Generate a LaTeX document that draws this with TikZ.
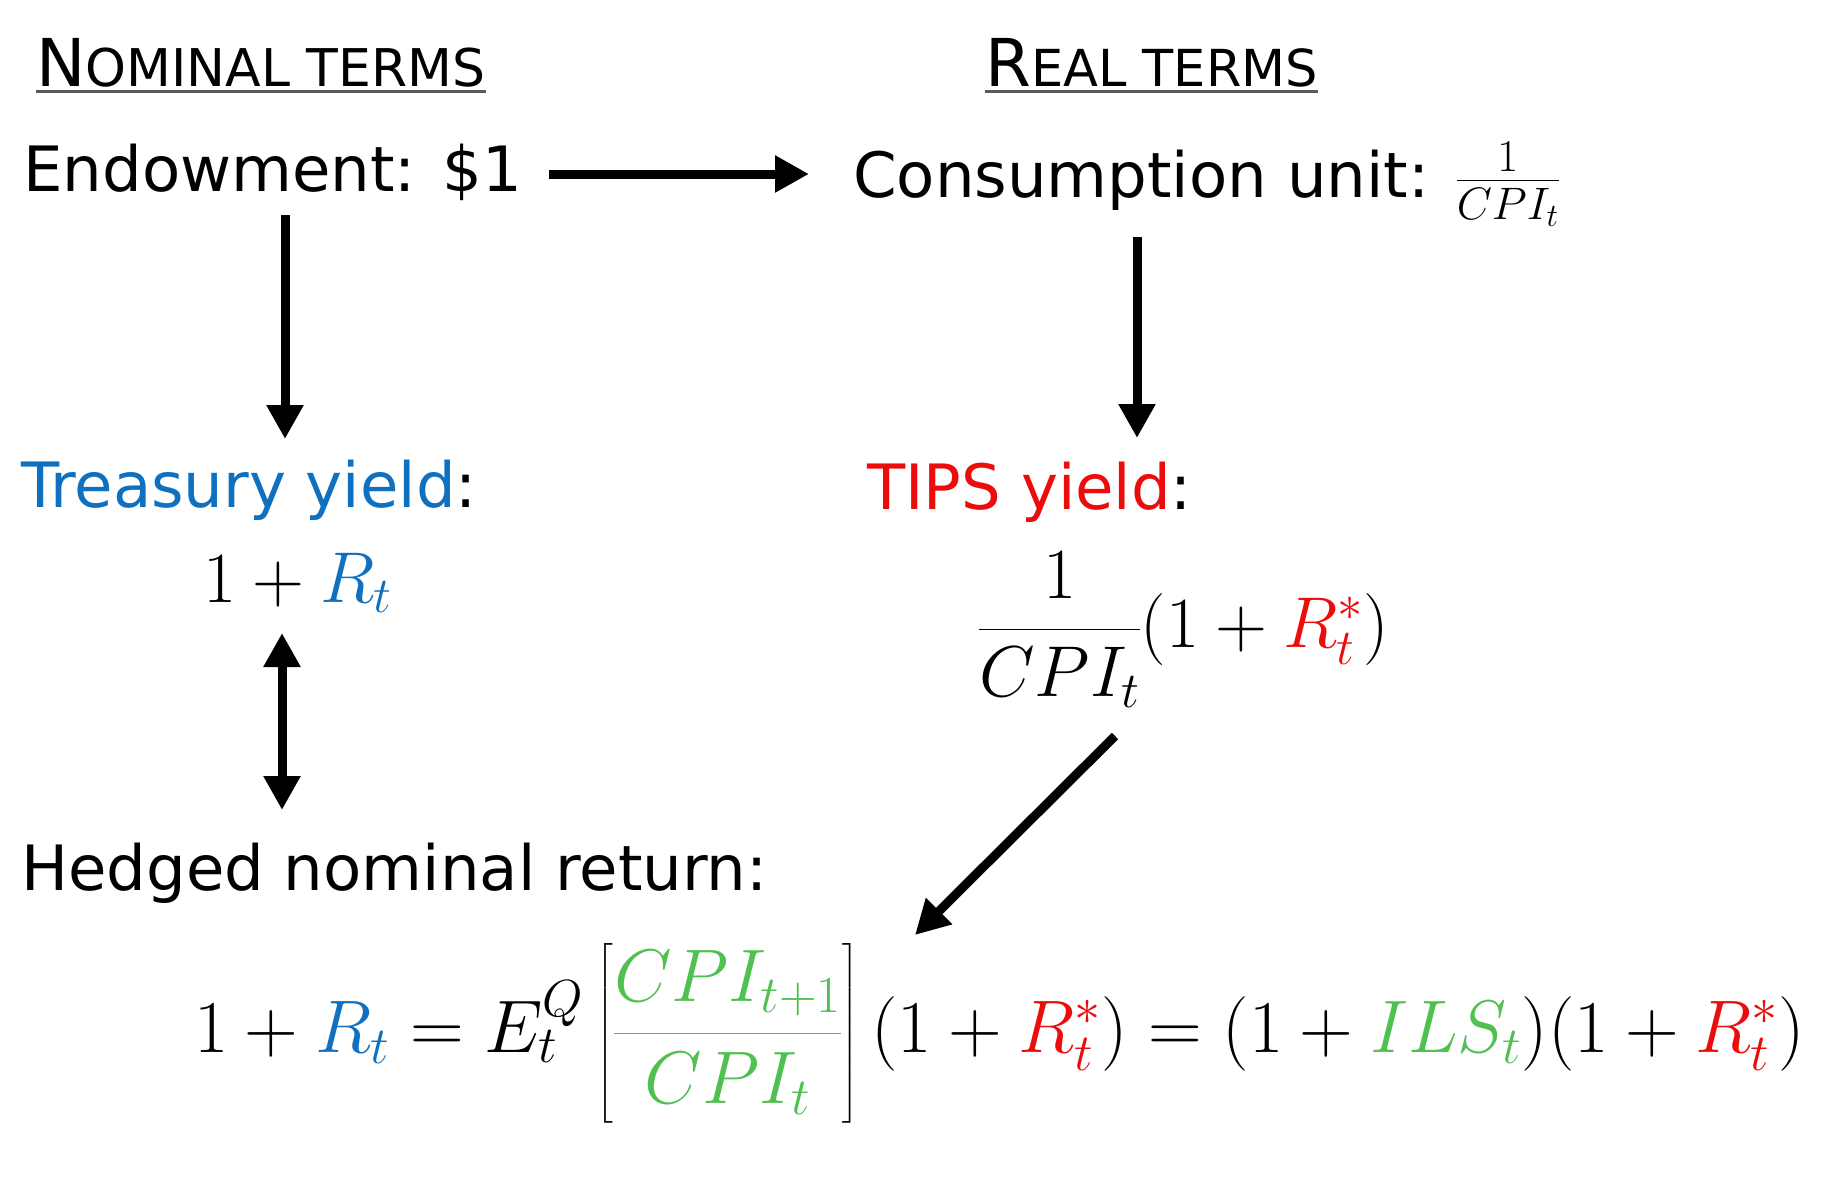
\RequirePackage{fix-cm}
\documentclass[tikz,border=0pt]{standalone}
\usepackage{amsmath}
\usepackage{fontspec}
\setmainfont{DejaVu Sans}
\usetikzlibrary{arrows.meta}
\definecolor{tblue}{RGB}{16,112,192}
\definecolor{tred}{RGB}{236,12,12}
\definecolor{tgreen}{RGB}{80,192,80}
\definecolor{ulgray}{RGB}{90,90,90}
\newcommand{\txtsize}{\fontsize{62.5}{70}\selectfont}
\newcommand{\mathsz}{\fontsize{72}{80}\selectfont}
\newcommand{\bigmathsz}{\fontsize{74.5}{82}\selectfont}
\begin{document}
\begin{tikzpicture}[x=1pt,y=-1pt,
  lbl/.style={anchor=base west,inner sep=0pt,font=\txtsize},
  mth/.style={anchor=base west,inner sep=0pt,font=\mathsz},
  arr/.style={line width=9pt,-{Triangle[length=34pt,width=35pt]}},
  darr/.style={line width=9pt,{Triangle[length=34pt,width=35pt]}-{Triangle[length=34pt,width=35pt]}},
  uline/.style={line width=3pt,ulgray}]
\useasboundingbox (0,0) rectangle (1840,1183);
% headings
\node[lbl] (h1) at (36,86) {{\fontsize{66}{70}\selectfont N}{\fontsize{52}{60}\selectfont OMINAL TERMS}};
\node[lbl] (h2) at (985,86) {{\fontsize{66}{70}\selectfont R}{\fontsize{51}{60}\selectfont EAL TERMS}};
\draw[uline] ([yshift=-5pt]h1.base west) -- ([yshift=-5pt]h1.base east);
\draw[uline] ([yshift=-5pt]h2.base west) -- ([yshift=-5pt]h2.base east);
% text nodes
\node[lbl] (endow) at (23,191) {Endowment: \$1};
\node[lbl] (cons) at (853,197) {Consumption unit: {\fontsize{65}{72}\selectfont$\frac{1}{CPI_t}$}};
\node[lbl] (treas) at (21,507) {\textcolor{tblue}{Treasury yield}:};
\node[mth] (rnom) at (203,602) {$1+{\color{tblue}R_t}$};
\node[lbl] (tips) at (867,509) {\textcolor{tred}{TIPS yield}:};
\node[mth] (rreal) at (978,647) {$\dfrac{1}{CPI_t}(1+{\color{tred}R_t^*})$};
\node[lbl] (hedged) at (21,890) {Hedged nominal return:};
\node[mth,font=\bigmathsz] (bigeq) at (194,1052) {$1+{\color{tblue}R_t}=E_t^Q\left[\vphantom{\rule[-71pt]{0pt}{179pt}}{\color{tgreen}\dfrac{CPI_{t+1}}{CPI_t}}\right](1+{\color{tred}R_t^*})=(1+{\color{tgreen}ILS_t})(1+{\color{tred}R_t^*})$};
% arrow end points
\coordinate (a1s) at (549,174);
\coordinate (a1e) at (809,174);
\coordinate (a2s) at (285,215);
\coordinate (a2e) at (285,439);
\coordinate (a3s) at (1137,237);
\coordinate (a3e) at (1137,438);
\coordinate (a4s) at (282,633);
\coordinate (a4e) at (282,810);
\coordinate (a5s) at (1115,736);
\coordinate (a5e) at (915,935);
\draw[arr] (a1s) -- (a1e);
\draw[arr] (a2s) -- (a2e);
\draw[arr] (a3s) -- (a3e);
\draw[darr] (a4s) -- (a4e);
\draw[arr] (a5s) -- (a5e);
\end{tikzpicture}
\end{document}
